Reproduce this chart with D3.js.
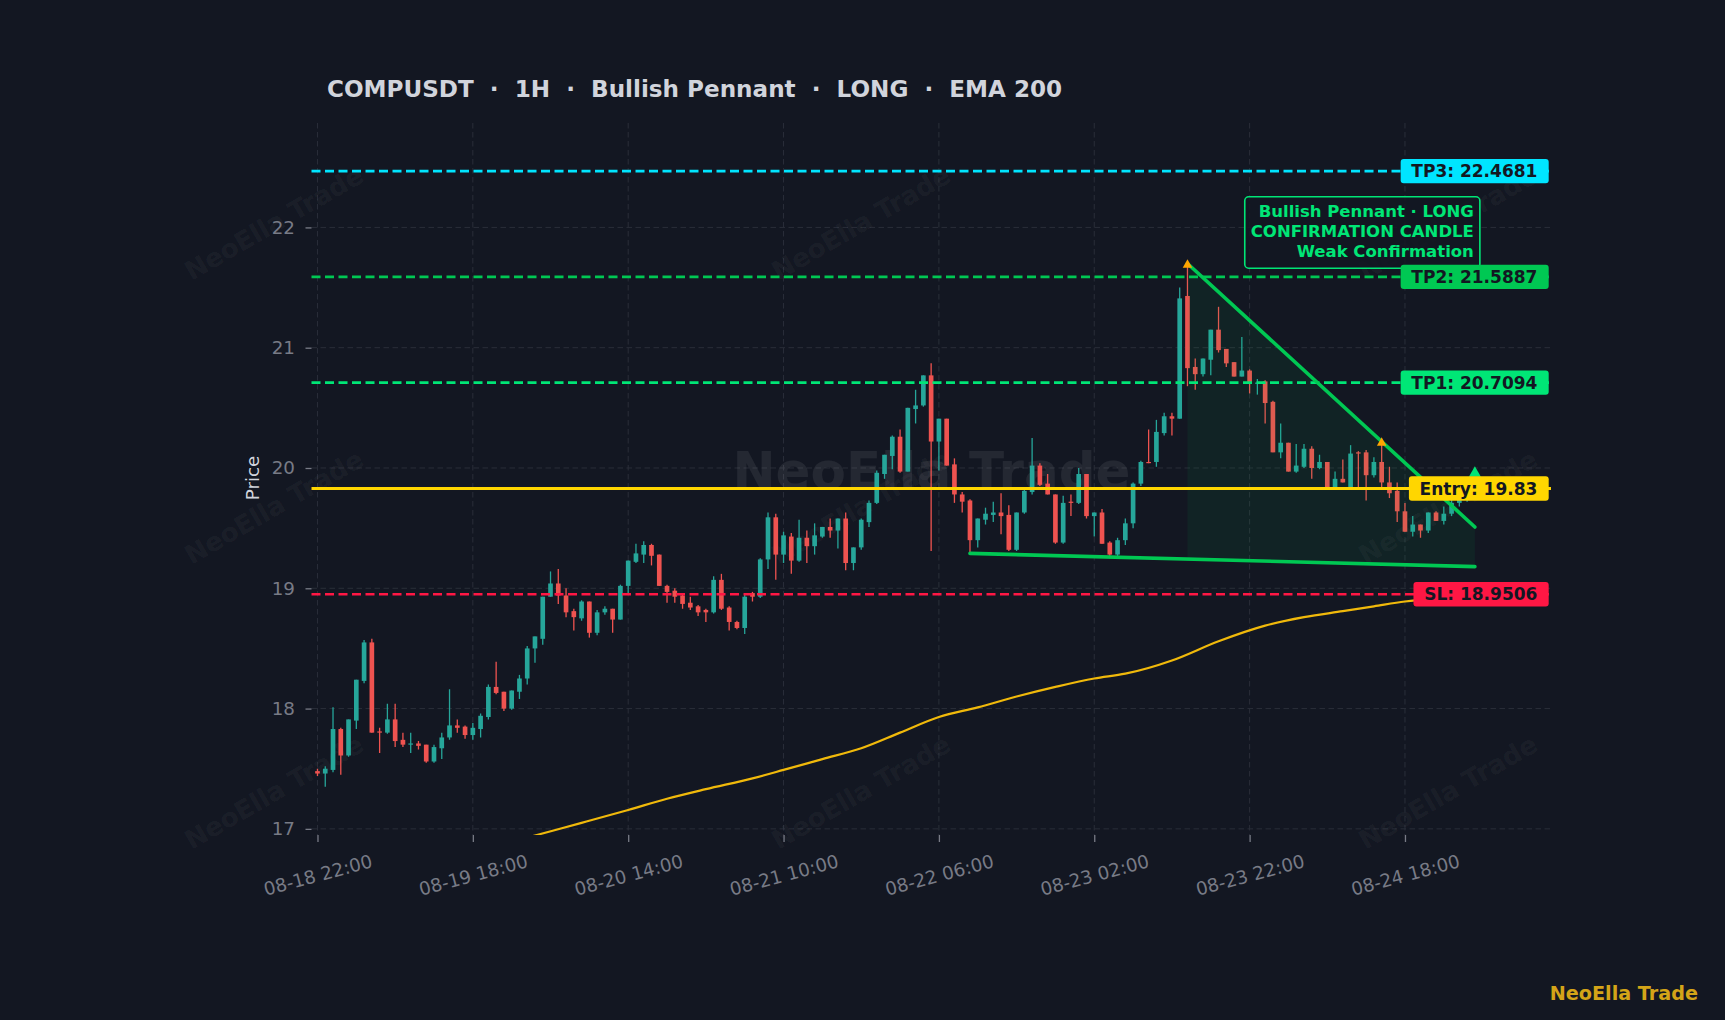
<!DOCTYPE html>
<html>
<head>
<meta charset="utf-8">
<script src="https://cdn.jsdelivr.net/npm/d3@7"></script>
<style>
  body { margin: 0; background: #131722; }
  svg { display: block; font-family: "DejaVu Sans", sans-serif; }
</style>
</head>
<body>
<div id="chart"></div>
<script>
// DATA (1H candles, index 0 = 08-18 22:00)

const opens = [17.48,17.46,17.49,17.83,17.61,17.90,18.23,18.55,17.81,17.80,
  17.91,17.74,17.70,17.71,17.70,17.56,17.67,17.76,17.86,17.85,
  17.78,17.83,17.93,18.18,18.14,18.00,18.14,18.25,18.50,18.58,
  18.93,19.04,18.94,18.81,18.75,18.89,18.63,18.80,18.83,18.74,
  19.02,19.22,19.28,19.36,19.28,19.02,18.98,18.94,18.88,18.85,
  18.82,18.80,19.07,18.84,18.72,18.67,18.96,18.93,19.24,19.59,
  19.28,19.43,19.23,19.42,19.35,19.43,19.51,19.48,19.58,19.21,
  19.34,19.55,19.71,19.95,20.10,20.26,19.97,20.49,20.52,20.77,
  20.22,20.41,20.03,19.78,19.73,19.40,19.57,19.61,19.63,19.61,
  19.32,19.63,19.80,20.02,19.87,19.78,19.38,19.72,19.71,19.95,
  19.60,19.63,19.38,19.28,19.40,19.54,19.87,20.05,20.05,20.29,
  20.43,20.41,21.43,20.84,20.78,20.90,21.15,20.99,20.88,20.76,
  20.81,20.70,20.72,20.55,20.13,20.21,19.97,20.01,20.16,20.00,
  20.05,19.83,19.91,19.83,20.13,20.13,19.94,20.05,19.88,19.81,
  19.64,19.47,19.53,19.48,19.63,19.56,19.62,19.71,19.76,19.80];

const highs = [17.50,17.52,18.01,17.84,17.91,18.24,18.57,18.58,17.84,18.04,
  18.04,17.80,17.80,17.73,17.70,17.70,17.80,18.16,17.91,17.86,
  17.88,17.96,18.20,18.39,18.14,18.15,18.28,18.52,18.60,18.93,
  19.14,19.16,19.00,18.83,18.90,18.89,18.82,18.85,18.83,19.03,
  19.23,19.37,19.39,19.37,19.28,19.03,19.00,18.96,18.93,18.86,
  18.83,19.10,19.12,18.85,18.73,18.95,18.97,19.25,19.63,19.62,
  19.47,19.46,19.57,19.48,19.54,19.51,19.58,19.58,19.63,19.34,
  19.58,19.73,19.98,20.11,20.27,20.32,20.50,20.65,20.77,20.87,
  20.41,20.41,20.08,19.80,19.74,19.58,19.67,19.72,19.79,19.69,
  19.63,19.82,20.25,20.04,19.95,19.78,19.77,19.78,20.00,19.95,
  19.63,19.66,19.39,19.42,19.58,19.88,20.06,20.32,20.40,20.46,
  20.46,21.50,21.71,20.91,20.91,21.15,21.34,20.99,20.88,21.09,
  20.82,20.74,20.73,20.56,20.37,20.21,20.20,20.20,20.18,20.11,
  20.05,19.97,20.07,20.19,20.14,20.15,20.09,20.22,20.01,19.88,
  19.71,19.60,19.53,19.63,19.64,19.68,19.76,19.80,19.86,19.92];

const lows = [17.44,17.35,17.47,17.45,17.60,17.83,18.21,17.80,17.63,17.79,
  17.68,17.68,17.63,17.66,17.55,17.55,17.58,17.74,17.80,17.75,
  17.74,17.76,17.91,18.12,17.98,17.99,18.08,18.20,18.38,18.53,
  18.93,18.87,18.76,18.65,18.73,18.59,18.61,18.78,18.63,18.74,
  18.95,19.21,19.21,19.19,19.02,18.88,18.88,18.83,18.82,18.77,
  18.72,18.79,18.82,18.65,18.66,18.62,18.89,18.92,19.16,19.07,
  19.21,19.12,19.22,19.21,19.28,19.42,19.42,19.33,19.15,19.15,
  19.32,19.51,19.70,19.91,19.99,19.96,19.97,20.37,20.51,19.31,
  19.98,20.02,19.71,19.63,19.30,19.34,19.53,19.55,19.45,19.31,
  19.31,19.62,19.78,19.85,19.78,19.37,19.37,19.60,19.70,19.58,
  19.43,19.37,19.25,19.26,19.36,19.50,19.85,20.04,20.01,20.27,
  20.27,20.41,20.68,20.65,20.76,20.77,20.96,20.84,20.76,20.76,
  20.62,20.61,20.37,20.13,20.08,19.97,19.96,20.00,19.91,19.99,
  19.83,19.83,19.88,19.83,19.83,19.73,19.92,19.83,19.75,19.55,
  19.47,19.43,19.42,19.46,19.56,19.53,19.60,19.68,19.72,19.78];

const closes = [17.46,17.50,17.83,17.61,17.91,18.24,18.55,17.80,17.80,17.91,
  17.73,17.70,17.71,17.69,17.56,17.68,17.76,17.86,17.84,17.78,
  17.84,17.94,18.18,18.13,18.00,18.15,18.25,18.50,18.60,18.93,
  19.04,18.94,18.80,18.76,18.89,18.63,18.80,18.83,18.74,19.02,
  19.23,19.29,19.36,19.27,19.02,18.97,18.93,18.87,18.84,18.80,
  18.80,19.07,18.83,18.72,18.67,18.93,18.93,19.24,19.59,19.28,
  19.44,19.23,19.42,19.35,19.44,19.51,19.48,19.58,19.21,19.34,
  19.57,19.71,19.96,20.11,20.26,19.97,20.50,20.52,20.77,20.22,
  20.41,20.02,19.78,19.72,19.40,19.58,19.62,19.63,19.60,19.32,
  19.63,19.81,20.02,19.86,19.78,19.38,19.71,19.71,19.95,19.60,
  19.63,19.37,19.28,19.40,19.54,19.87,20.05,20.04,20.30,20.43,
  20.41,21.41,20.83,20.78,20.91,21.15,20.98,20.87,20.76,20.81,
  20.70,20.71,20.54,20.13,20.21,19.97,20.02,20.16,20.00,20.05,
  19.83,19.91,19.88,20.12,20.12,19.94,20.05,19.88,19.79,19.64,
  19.47,19.53,19.48,19.63,19.56,19.62,19.71,19.76,19.80,19.86];

const tickIdx = [0, 20, 40, 60, 80, 100, 120, 140];
const tickLabels = ["08-18 22:00", "08-19 18:00", "08-20 14:00", "08-21 10:00",
  "08-22 06:00", "08-23 02:00", "08-23 22:00", "08-24 18:00"];
const priceTicks = [17, 18, 19, 20, 21, 22];

// EMA 200 at sample candles
const emaIdx = [20, 28, 34, 40, 45, 50, 56, 60, 65, 70, 75, 80, 85, 90, 95, 100,
  104, 110, 116, 122, 127, 132, 136, 140, 145, 149];
const emaVals = [16.80, 16.945, 17.05, 17.157, 17.25, 17.33, 17.42, 17.49, 17.58, 17.67,
  17.80, 17.93, 18.01, 18.10, 18.18, 18.25, 18.29, 18.40, 18.56, 18.69, 18.76, 18.81,
  18.85, 18.89, 18.92, 18.94];

const levelNames = ["TP3", "TP2", "TP1", "Entry", "SL"];
const levelValues = [22.4681, 21.5887, 20.7094, 19.83, 18.9506];
const levelColors = ["#00e5ff", "#00c853", "#00e676", "#ffd600", "#ff1744"];
const levelDashed = [true, true, true, false, true];

const pivotHighIdx = [112, 137];
const pivotHighVals = [21.70, 20.22];
const lowerLineIdx = [84, 149];
const lowerLineVals = [19.29, 19.18];
const signalIdx = [149];
const signalVals = [19.97];

const noteLines = ["Bullish Pennant \u00b7 LONG", "CONFIRMATION CANDLE", "Weak Confirmation"];
const titleText = "COMPUSDT  \u00b7  1H  \u00b7  Bullish Pennant  \u00b7  LONG  \u00b7  EMA 200";
const brand = "NeoElla Trade";

// MAKE SVG CANVAS

const width = 1725;
const height = 1020;
const margin = {top: 123, left: 311.5, right: 174, bottom: 185};
const svg = d3.select("#chart")
    .append("svg")
    .attr("width", width)
    .attr("height", height);

svg.append("rect").attr("width", width).attr("height", height).attr("fill", "#131722");

svg.append("clipPath").attr("id", "plotClip")
    .append("rect")
    .attr("x", margin.left).attr("y", margin.top)
    .attr("width", width - margin.left - margin.right)
    .attr("height", height - margin.top - margin.bottom);

// SCALES

const xScale = d3.scaleLinear()
    .domain([-0.77, 158.8])
    .range([margin.left, width - margin.right]);

const yScale = d3.scaleLinear()
    .domain([16.949, 22.868])
    .range([height - margin.bottom, margin.top]);

const upperLine = d3.scaleLinear().domain(pivotHighIdx).range(pivotHighVals);
const lowerLine = d3.scaleLinear().domain(lowerLineIdx).range(lowerLineVals);

// GRID

svg.append("g").selectAll("line")
    .data(priceTicks)
    .enter().append("line")
    .attr("x1", margin.left).attr("x2", width - margin.right)
    .attr("y1", d => yScale(d)).attr("y2", d => yScale(d))
    .attr("stroke", "#2a2e39").attr("stroke-width", 1).attr("stroke-dasharray", "5.5,3.5");

svg.append("g").selectAll("line")
    .data(tickIdx)
    .enter().append("line")
    .attr("x1", d => xScale(d)).attr("x2", d => xScale(d))
    .attr("y1", margin.top).attr("y2", height - margin.bottom)
    .attr("stroke", "#2a2e39").attr("stroke-width", 1).attr("stroke-dasharray", "5.5,3.5");

// WATERMARKS

const tileX = [274, 861, 1448];
const tileY = [223, 507, 792];
tileY.forEach(ty => tileX.forEach(tx => {
    svg.append("text")
        .attr("transform", `translate(${tx},${ty}) rotate(-30)`)
        .attr("text-anchor", "middle")
        .attr("dominant-baseline", "central")
        .attr("font-size", 26).attr("font-weight", "bold")
        .attr("fill", "#ffffff").attr("fill-opacity", 0.05)
        .text(brand);
}));

svg.append("text")
    .attr("x", 931.5).attr("y", 489)
    .attr("text-anchor", "middle")
    .attr("font-size", 51.5).attr("font-weight", "bold")
    .attr("fill", "#ffffff").attr("fill-opacity", 0.075)
    .text(brand);

// AXIS

const yAxis = svg.append("g")
    .attr("transform", `translate(${margin.left},0)`)
    .call(d3.axisLeft(yScale).tickValues(priceTicks).tickFormat(d3.format("d"))
        .tickSize(6).tickPadding(10.5));

const xAxis = svg.append("g")
    .attr("transform", `translate(0,${height - margin.bottom})`)
    .call(d3.axisBottom(xScale).tickValues(tickIdx)
        .tickFormat((d, i) => tickLabels[i]).tickSize(7));

[yAxis, xAxis].forEach(ax => {
    ax.select(".domain").remove();
    ax.selectAll(".tick line").attr("stroke", "#787b86").attr("stroke-width", 1.3);
    ax.selectAll(".tick text")
        .attr("fill", "#787b86")
        .attr("font-size", 18.3)
        .attr("font-family", "DejaVu Sans");
});

xAxis.selectAll(".tick text")
    .attr("y", null).attr("dy", null)
    .attr("text-anchor", "middle")
    .attr("dominant-baseline", "central")
    .attr("transform", "translate(0,40) rotate(-15)");

svg.append("text")
    .attr("transform", "translate(252,478) rotate(-90)")
    .attr("text-anchor", "middle")
    .attr("dominant-baseline", "central")
    .attr("font-size", 18.3)
    .attr("fill", "#d1d4dc")
    .text("Price");

// CANDLES

const candles = d3.range(opens.length).map(i => ({
    i: i, o: opens[i], h: highs[i], l: lows[i], c: closes[i]
}));
const bodyW = 0.6 * (xScale(1) - xScale(0));
const upColor = "#26a69a";
const downColor = "#ef5350";

const candleG = svg.append("g").attr("clip-path", "url(#plotClip)");

candleG.selectAll(".wick")
    .data(candles)
    .enter().append("line")
    .attr("class", "wick")
    .attr("x1", d => xScale(d.i)).attr("x2", d => xScale(d.i))
    .attr("y1", d => yScale(d.h)).attr("y2", d => yScale(d.l))
    .attr("stroke", d => d.c >= d.o ? upColor : downColor)
    .attr("stroke-width", 1.3);

candleG.selectAll(".body")
    .data(candles)
    .enter().append("rect")
    .attr("class", "body")
    .attr("x", d => xScale(d.i) - bodyW / 2)
    .attr("y", d => yScale(Math.max(d.o, d.c)))
    .attr("width", bodyW)
    .attr("height", d => Math.max(1.2, Math.abs(yScale(d.o) - yScale(d.c))))
    .attr("fill", d => d.c >= d.o ? upColor : downColor);

// PENNANT FILL

const pennantSpan = [pivotHighIdx[0], lowerLineIdx[1]];
svg.append("path")
    .datum(pennantSpan)
    .attr("d", d3.area()
        .x(d => xScale(d))
        .y0(d => yScale(lowerLine(d)))
        .y1(d => yScale(upperLine(d))))
    .attr("fill", "#00c853").attr("fill-opacity", 0.07);

// EMA 200

const emaData = emaIdx.map((d, k) => ({i: d, v: emaVals[k]}));
svg.append("path")
    .datum(emaData)
    .attr("clip-path", "url(#plotClip)")
    .attr("d", d3.line().x(d => xScale(d.i)).y(d => yScale(d.v)).curve(d3.curveMonotoneX))
    .attr("fill", "none")
    .attr("stroke", "#f0b90b")
    .attr("stroke-width", 2.2);

// LEVEL LINES

levelValues.forEach((v, k) => {
    svg.append("line")
        .attr("x1", margin.left).attr("x2", width - margin.right)
        .attr("y1", yScale(v)).attr("y2", yScale(v))
        .attr("stroke", levelColors[k])
        .attr("stroke-width", levelDashed[k] ? 2.6 : 3)
        .attr("stroke-dasharray", levelDashed[k] ? "9,4.5" : null);
});

// PENNANT LINES

svg.append("line")
    .attr("x1", xScale(pennantSpan[0])).attr("y1", yScale(upperLine(pennantSpan[0])))
    .attr("x2", xScale(pennantSpan[1])).attr("y2", yScale(upperLine(pennantSpan[1])))
    .attr("stroke", "#00c853").attr("stroke-width", 3.6).attr("stroke-linecap", "round");

svg.append("line")
    .attr("x1", xScale(lowerLineIdx[0])).attr("y1", yScale(lowerLineVals[0]))
    .attr("x2", xScale(lowerLineIdx[1])).attr("y2", yScale(lowerLineVals[1]))
    .attr("stroke", "#00c853").attr("stroke-width", 3.6).attr("stroke-linecap", "round");

function triPath(cx, cy, w, h) {
    return `M${cx - w / 2},${cy + h / 2}L${cx},${cy - h / 2}L${cx + w / 2},${cy + h / 2}Z`;
}

svg.selectAll(".pivot")
    .data(pivotHighIdx)
    .enter().append("path")
    .attr("class", "pivot")
    .attr("d", (d, k) => triPath(xScale(d), yScale(pivotHighVals[k]), 9.5, 8.5))
    .attr("fill", "#ffa500");

svg.selectAll(".signal")
    .data(signalIdx)
    .enter().append("path")
    .attr("class", "signal")
    .attr("d", (d, k) => triPath(xScale(d), yScale(signalVals[k]), 12, 10.5))
    .attr("fill", "#00e676");

// ANNOTATION BOX

const noteRight = xScale(candles.length - 1) - 1;
const noteG = svg.append("g");
const noteBox = noteG.append("rect");
const noteText = noteG.append("text")
    .attr("text-anchor", "end")
    .attr("font-size", 16.5)
    .attr("font-weight", "bold")
    .attr("fill", "#00e676");
noteLines.forEach((t, k) => {
    noteText.append("tspan")
        .attr("x", noteRight)
        .attr("y", 217.3 + k * 19.7)
        .text(t);
});
const nb = noteText.node().getBBox();
noteBox
    .attr("x", nb.x - 6).attr("y", nb.y - 5.5)
    .attr("width", nb.width + 12).attr("height", nb.height + 13)
    .attr("rx", 4)
    .attr("fill", "#131722").attr("fill-opacity", 0.85)
    .attr("stroke", "#00e676").attr("stroke-width", 1.6);

// LEVEL LABELS

const labelRight = width - margin.right - 2.3;
levelNames.forEach((name, k) => {
    const yv = yScale(levelValues[k]);
    const g = svg.append("g");
    const rect = g.append("rect");
    const t = g.append("text")
        .attr("x", labelRight - 11.3)
        .attr("y", yv)
        .attr("dy", "0.36em")
        .attr("text-anchor", "end")
        .attr("font-size", 17)
        .attr("font-weight", "bold")
        .attr("fill", "#131722")
        .text(`${name}: ${levelValues[k]}`);
    const tw = t.node().getComputedTextLength();
    rect.attr("x", labelRight - tw - 22)
        .attr("y", yv - 12.2)
        .attr("width", tw + 22)
        .attr("height", 24.4)
        .attr("rx", 3)
        .attr("fill", levelColors[k]);
});

// TITLE + BRAND

svg.append("text")
    .attr("x", 327).attr("y", 97.3)
    .style("white-space", "pre")
    .attr("font-size", 23.1)
    .attr("font-weight", "bold")
    .attr("fill", "#d1d4dc")
    .text(titleText);

svg.append("text")
    .attr("x", 1698).attr("y", 1000)
    .attr("text-anchor", "end")
    .attr("font-size", 19.2)
    .attr("font-weight", "bold")
    .attr("fill", "#d4a418")
    .text(brand);
</script>
</body>
</html>
